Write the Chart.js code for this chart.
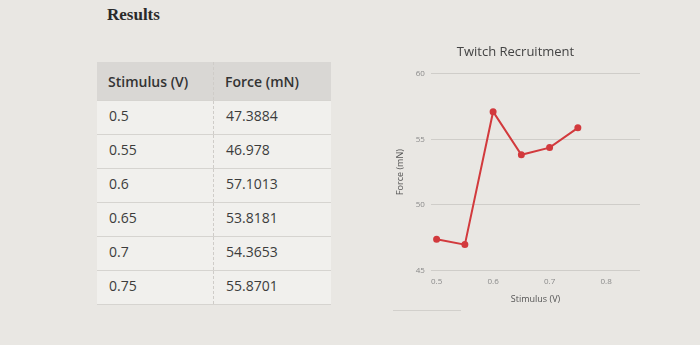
<!DOCTYPE html>
<html>
<head>
<meta charset="utf-8">
<script src="https://cdn.jsdelivr.net/npm/chart.js@4.4.1/dist/chart.umd.min.js"></script>
<style>
  html, body { margin: 0; padding: 0; }
  body {
    width: 700px; height: 345px; overflow: hidden; position: relative;
    background: #e9e7e3;
    font-family: 'Open Sans', sans-serif;
  }
  .heading {
    position: absolute; left: 107px; top: 5px;
    font-family: 'Liberation Serif', 'DejaVu Serif', serif;
    font-weight: bold; font-size: 17px; color: #2a2a2a;
  }
  table.results {
    position: absolute; left: 97px; top: 62px;
    width: 234px; border-collapse: collapse;
    background: #f1f0ed; color: #3c3c3c; font-size: 14px;
  }
  table.results th {
    background: #d9d7d4; text-align: left; font-weight: 600;
    height: 38px; padding: 0 0 0 11px; color: #333;
  }
  table.results td {
    height: 29px; padding: 0 0 4px 12px; border-top: 1px solid #d6d4d0;
    vertical-align: middle;
  }
  table.results td:first-child, table.results th:first-child {
    width: 104px; border-right: 1px dashed #cfccc8;
  }
  table.results tr:last-child td { border-bottom: 1px solid #d6d4d0; }
  .chart-box { position: absolute; left: 391px; top: 36px; width: 264px; height: 269px; }
  .stub { position: absolute; left: 393px; top: 310px; width: 68px; height: 1px; background: #d2d0cc; }
</style>
</head>
<body>
<div class="heading">Results</div>
<table class="results" id="results"></table>
<div class="chart-box"><canvas id="chart-twitch"></canvas></div>
<div class="stub"></div>
<script>
// Stimulus voltage vs. twitch force
const stimulus = [0.5, 0.55, 0.6, 0.65, 0.7, 0.75];
const force    = [47.3884, 46.978, 57.1013, 53.8181, 54.3653, 55.8701];
const headers  = ['Stimulus (V)', 'Force (mN)'];
const xTicks   = [0.5, 0.6, 0.7, 0.8];

// ── Table ────────────────────────────────────────────────────────────────
const tbl = document.getElementById('results');
tbl.innerHTML = `
  <tr>${headers.map(h => `<th>${h}</th>`).join('')}</tr>
  ${stimulus.map((s, i) => `<tr><td>${s}</td><td>${force[i]}</td></tr>`).join('')}`;

// ── Chart ────────────────────────────────────────────────────────────────
const RED = '#d23a3d';
Chart.defaults.font.family = "'Open Sans', sans-serif";
Chart.defaults.color = '#8a8a8a';

new Chart(document.getElementById('chart-twitch'), {
  type: 'line',
  data: {
    datasets: [{
      data: stimulus.map((x, i) => ({ x, y: force[i] })),
      borderColor: RED,
      backgroundColor: RED,
      borderWidth: 2,
      pointRadius: 2.5,
      tension: 0,
    }],
  },
  options: {
    responsive: true,
    maintainAspectRatio: false,
    animation: false,
    layout: { padding: { left: 0, right: 15, top: 0, bottom: 0 } },
    plugins: {
      legend: { display: false },
      tooltip: { enabled: false },
      title: {
        display: true, text: 'Twitch Recruitment', color: '#444',
        font: { size: 13, weight: 'normal' }, padding: { top: 8, bottom: 14 },
      },
    },
    scales: {
      x: {
        type: 'linear', min: 0.49, max: 0.86,
        grid: { display: false, drawTicks: false },
        border: { display: false },
        afterBuildTicks: axis => { axis.ticks = xTicks.map(value => ({ value })); },
        ticks: {
          font: { size: 8 }, padding: 6, maxRotation: 0,
          callback: v => v.toFixed(1),
        },
        title: { display: true, text: 'Stimulus (V)', color: '#555', font: { size: 9 }, padding: { top: 2, bottom: 0 } },
      },
      y: {
        min: 45, max: 60,
        grid: { color: '#cfcdc9', drawTicks: false },
        border: { display: false },
        ticks: { stepSize: 5, font: { size: 8 }, padding: 6 },
        title: { display: true, text: 'Force (mN)', color: '#555', font: { size: 9 } },
      },
    },
  },
});
</script>
</body>
</html>
